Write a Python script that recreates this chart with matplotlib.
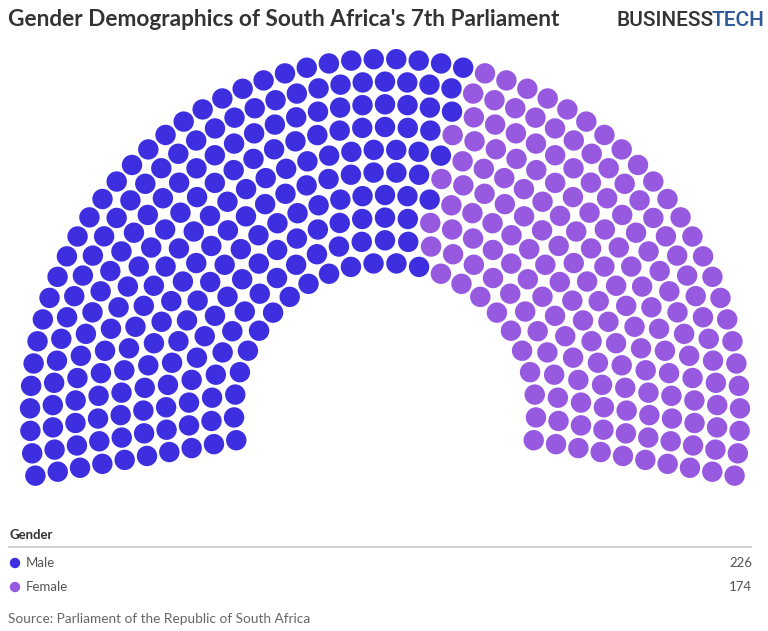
import numpy as np
import matplotlib
matplotlib.use("Agg")
import matplotlib.pyplot as plt
from matplotlib.patches import Circle

# ---- data ----
categories = ["Male", "Female"]
seats = [226, 174]
colors = ["#3d2fe0", "#9659e0"]
title = "Gender Demographics of South Africa's 7th Parliament"
legend_title = "Gender"
source = "Source: Parliament of the Republic of South Africa"

W, H = 768, 631
fig = plt.figure(figsize=(W / 100, H / 100), dpi=100)
ax = fig.add_axes([0, 0, 1, 1])
ax.set_xlim(0, W)
ax.set_ylim(H, 0)
ax.set_aspect("equal")
ax.axis("off")

# ---- parliament layout ----
total = sum(seats)
n_rows = 10
cx, cy = 385.0, 414.0
r_in, r_out = 151.0, 355.0
a_start, a_end = np.deg2rad(190.0), np.deg2rad(-10.0)
dot_r = 10.2

radii = np.linspace(r_in, r_out, n_rows)
raw = total * radii / radii.sum()
counts = np.floor(raw).astype(int)
rem = total - counts.sum()
order = np.argsort(-(raw - counts))
counts[order[:rem]] += 1

pts = []
for r, n in zip(radii, counts):
    angs = np.linspace(a_start, a_end, n)
    for a in angs:
        pts.append((a, r))
pts.sort(key=lambda p: (-p[0], p[1]))

cum = np.cumsum(seats)
for i, (a, r) in enumerate(pts):
    k = int(np.searchsorted(cum, i, side="right"))
    x = cx + r * np.cos(a)
    y = cy - r * np.sin(a)
    ax.add_patch(Circle((x, y), dot_r, facecolor=colors[k], edgecolor="none"))

fig.canvas.draw()
renderer = fig.canvas.get_renderer()


def fit_text(x, y, s, target_w, ha="left", **kw):
    t = ax.text(x, y, s, ha=ha, **kw)
    w = t.get_window_extent(renderer).width
    t.set_fontsize(t.get_fontsize() * target_w / w)
    return t


# ---- title ----
fit_text(8, 20, title, 555, va="center", fontsize=15, fontweight="bold",
         family=["Lato", "DejaVu Sans"], color="#333333")

# ---- logo ----
logo_font = ["Roboto", "DejaVu Sans"]
t1 = ax.text(617, 20, "BUSINESS", ha="left", va="center", fontsize=16,
             fontweight="medium", family=logo_font, color="#333333")
t2 = ax.text(0, 20, "TECH", ha="left", va="center", fontsize=16,
             fontweight="medium", family=logo_font, color="#2e5a9a")
w1 = t1.get_window_extent(renderer).width
w2 = t2.get_window_extent(renderer).width
scale = 150.0 / (w1 + w2)
fs = 16 * scale
t1.set_fontsize(fs)
t2.set_fontsize(fs)
t2.set_x(617 + w1 * scale - 3)

# ---- legend ----
ax.text(10, 535, legend_title, ha="left", va="center", fontsize=9.5,
        fontweight="bold", family=["Lato", "DejaVu Sans"], color="#333333")
ax.plot([8, 752], [547, 547], color="#cccccc", lw=1.2, solid_capstyle="butt")
for i, (cat, val, col) in enumerate(zip(categories, seats, colors)):
    yy = 563 + 24 * i
    ax.add_patch(Circle((15, yy), 5.2, facecolor=col, edgecolor="none"))
    ax.text(26, yy, cat, ha="left", va="center", fontsize=9.5,
            family=["Lato", "DejaVu Sans"], color="#555555")
    ax.text(752, yy, str(val), ha="right", va="center", fontsize=9.5,
            family=["Lato", "DejaVu Sans"], color="#555555")

# ---- source ----
fit_text(8, 619, source, 300, va="center", fontsize=9.5,
         family=["Lato", "DejaVu Sans"], color="#666666")

fig.savefig("out.png", dpi=100)
